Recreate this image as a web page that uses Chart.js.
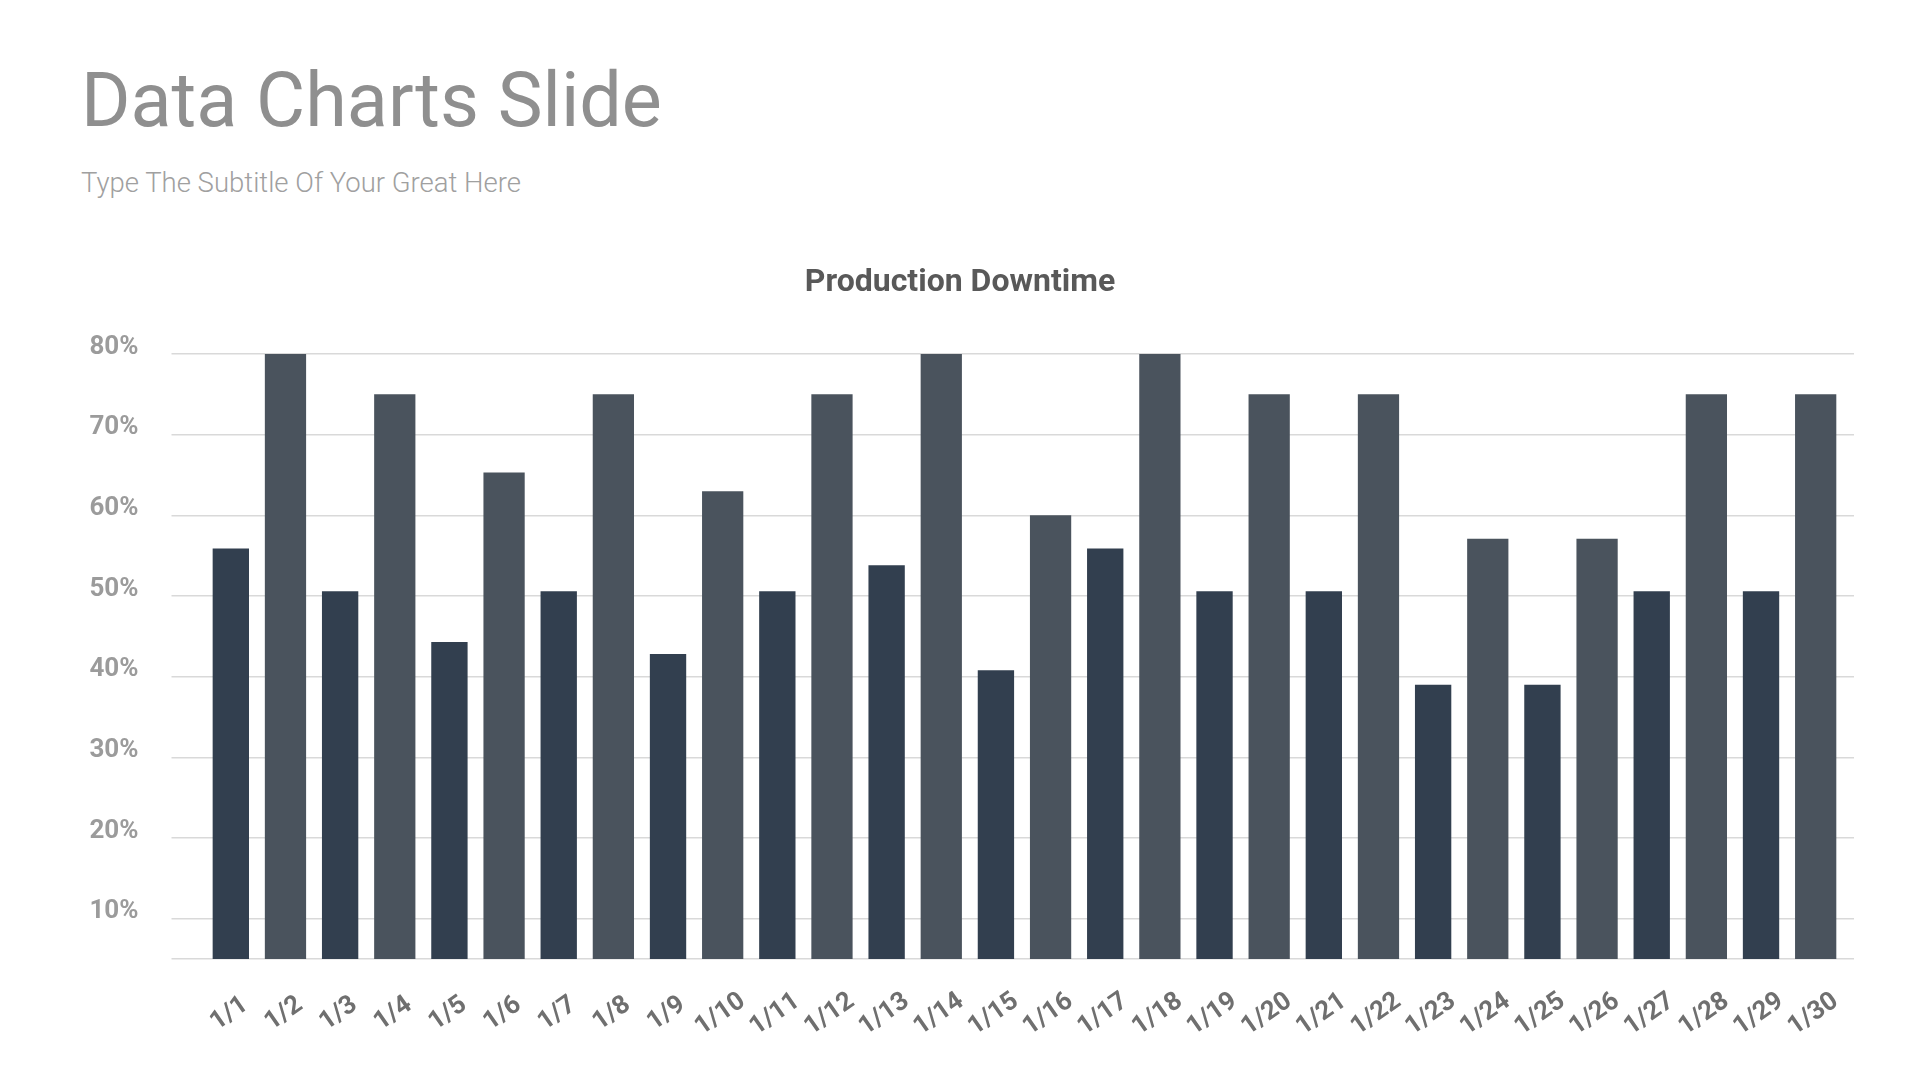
<!DOCTYPE html>
<html>
<head>
<meta charset="utf-8">
<title>Data Charts Slide</title>
<script src="https://cdn.jsdelivr.net/npm/chart.js@4.4.1/dist/chart.umd.min.js"></script>
<style>
  html, body { margin: 0; padding: 0; background: #fff; }
  body { width: 1920px; height: 1080px; position: relative; overflow: hidden; font-family: Roboto, "Noto Sans", sans-serif; }
  .slide-title { position: absolute; left: 81px; top: 63px; font-size: 75.5px; line-height: 1; font-weight: 400; color: #8f8f8f; white-space: nowrap; }
  .slide-sub { position: absolute; left: 81px; top: 169px; font-size: 27.5px; line-height: 1; font-weight: 300; color: #a0a0a0; white-space: nowrap; }
  .chart-box { position: absolute; left: 0; top: 240px; width: 1920px; height: 840px; }
</style>
</head>
<body>
<div class="slide-title">Data Charts Slide</div>
<div class="slide-sub">Type The Subtitle Of Your Great Here</div>
<div class="chart-box"><canvas id="chart"></canvas></div>
<script>
// les donnees
var days = ['1/1','1/2','1/3','1/4','1/5','1/6','1/7','1/8','1/9','1/10',
            '1/11','1/12','1/13','1/14','1/15','1/16','1/17','1/18','1/19','1/20',
            '1/21','1/22','1/23','1/24','1/25','1/26','1/27','1/28','1/29','1/30'];
var downtime = [55.9, 80, 50.6, 75, 44.3, 65.3, 50.6, 75, 42.8, 63,
                50.6, 75, 53.8, 80, 40.8, 60, 55.9, 80, 50.6, 75,
                50.6, 75, 39, 57.1, 39, 57.1, 50.6, 75, 50.6, 75];
var yTicks = [10, 20, 30, 40, 50, 60, 70, 80];

(function() {
  // jours impairs / pairs : deux series qui se superposent sur la meme categorie
  var oddDays = downtime.map(function(v, i) { return i % 2 === 0 ? v : null; });
  var evenDays = downtime.map(function(v, i) { return i % 2 === 1 ? v : null; });

  var gridColor = '#d9d9d9';

  var options = {
    type: 'bar',
    data: {
      labels: days,
      datasets: [{
        label: 'odd',
        data: oddDays,
        backgroundColor: '#323f4f',
        grouped: false,
        categoryPercentage: 1,
        barPercentage: 0.665
      }, {
        label: 'even',
        data: evenDays,
        backgroundColor: '#4a535d',
        grouped: false,
        categoryPercentage: 1,
        barPercentage: 0.755
      }]
    },
    options: {
      responsive: true,
      maintainAspectRatio: false,
      animation: false,
      layout: { padding: { left: 66, right: 66, top: 0, bottom: 0 } },
      plugins: {
        legend: { display: false },
        tooltip: { enabled: false },
        title: {
          display: true,
          text: 'Production Downtime',
          color: '#595959',
          font: { family: 'Roboto', size: 32, weight: 'bold' },
          padding: { top: 24, bottom: 51.6 }
        }
      },
      scales: {
        x: {
          grid: { display: false },
          border: { display: false },
          ticks: {
            color: '#6f6f6f',
            font: { family: 'Roboto', size: 26, weight: 'bold' },
            minRotation: 35,
            maxRotation: 35,
            autoSkip: false,
            padding: 19,
            labelOffset: 20,
            // les libelles courts sont centres comme les longs
            callback: function(v) {
              var s = this.getLabelForValue(v);
              return s.length < 4 ? s + ' ' : s;
            }
          },
          afterFit: function(scale) { scale.height = 121; }
        },
        y: {
          min: 5,
          max: 80,
          border: { display: false },
          grid: { color: gridColor, lineWidth: 1.5, drawTicks: true, tickLength: 32 },
          ticks: {
            stepSize: 10,
            padding: 33,
            labelOffset: -7,
            color: '#9b9b9b',
            font: { family: 'Roboto', size: 26, weight: 'bold' },
            callback: function(v) { return yTicks.indexOf(Math.round(v)) >= 0 ? Math.round(v) + '%' : ''; }
          },
          afterFit: function(scale) { scale.width = 137.5; }
        },
        y2: {
          position: 'right',
          min: 5,
          max: 80,
          border: { display: false },
          grid: { color: gridColor, lineWidth: 1.5, drawOnChartArea: false, drawTicks: true, tickLength: 11 },
          ticks: { stepSize: 10, display: false },
          afterFit: function(scale) { scale.width = 11; }
        }
      }
    }
  };

  var ctx = document.getElementById('chart').getContext('2d');
  window.chart = new Chart(ctx, options);
})();
</script>
</body>
</html>
